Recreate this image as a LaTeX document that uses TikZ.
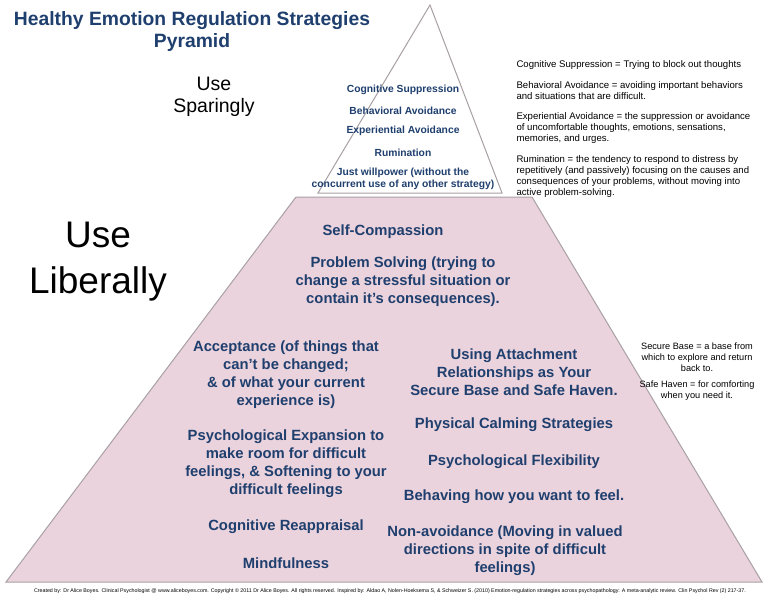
\documentclass[tikz,border=0pt]{standalone}
\usepackage{fontspec}
\setmainfont{Liberation Sans}
\definecolor{navy}{HTML}{1F3F6E}
\definecolor{pinkfill}{HTML}{EBD3DD}
\definecolor{edge}{HTML}{A8A0A4}
\begin{document}
\begin{tikzpicture}[x=1pt,y=-1pt,
  lbl/.style={text=navy,font=\bfseries\fontsize{14.8}{18}\selectfont,align=center},
  sm/.style={text=navy,font=\bfseries\fontsize{10.3}{12}\selectfont,align=center},
  note/.style={font=\fontsize{9.6}{11}\selectfont,align=left,anchor=north west}]
\useasboundingbox (0,0) rectangle (768,599);
\fill[white] (0,0) rectangle (768,599);
% pyramid pieces
\draw[edge,fill=pinkfill,line width=1pt] (296,197) -- (532,197) -- (762,582) -- (6,582) -- cycle;
\draw[edge,fill=white,line width=1pt] (430,5) -- (502,193) -- (318,193) -- cycle;
% headings
\node[text=navy,font=\bfseries\fontsize{19.3}{22}\selectfont,align=center] (title) at (192,32) {Healthy Emotion Regulation Strategies\\Pyramid};
\node[font=\fontsize{19.5}{22}\selectfont,align=center] (spar) at (214,97) {Use\\Sparingly};
\node[font=\fontsize{37}{46}\selectfont,align=center] (lib) at (98,262) {Use\\Liberally};
% top strategies
\node[sm] (cs) at (403,90) {Cognitive Suppression};
\node[sm] (ba) at (403,111) {Behavioral Avoidance};
\node[sm] (ea) at (403,131) {Experiential Avoidance};
\node[sm] (ru) at (403,153) {Rumination};
\node[sm] (jw) at (403,179) {Just willpower (without the\\concurrent use of any other strategy)};
% bottom strategies
\node[lbl] (sc) at (383,232) {Self-Compassion};
\node[lbl] (ps) at (403,282) {Problem Solving (trying to\\change a stressful situation or\\contain it's consequences).};
\node[lbl] (ac) at (286,375) {Acceptance (of things that\\can't be changed;\\\& of what your current\\experience is)};
\node[lbl] (at) at (514,372) {Using Attachment\\Relationships as Your\\Secure Base and Safe Haven.};
\node[lbl] (pe) at (286,464) {Psychological Expansion to\\make room for difficult\\feelings, \& Softening to your\\difficult feelings};
\node[lbl] (pc) at (514,425) {Physical Calming Strategies};
\node[lbl] (pf) at (514,462) {Psychological Flexibility};
\node[lbl] (bh) at (514,497) {Behaving how you want to feel.};
\node[lbl] (cr) at (286,527) {Cognitive Reappraisal};
\node[lbl] (mi) at (286,563) {Mindfulness};
\node[lbl] (na) at (505,551) {Non-avoidance (Moving in valued\\directions in spite of difficult\\feelings)};
% notes
\node[note] (n1) at (513,57) {Cognitive Suppression = Trying to block out thoughts};
\node[note] (n2) at (513,78) {Behavioral Avoidance = avoiding important behaviors\\and situations that are difficult.};
\node[note] (n3) at (513,109) {Experiential Avoidance = the suppression or avoidance\\of uncomfortable thoughts, emotions, sensations,\\memories, and urges.};
\node[note] (n4) at (513,152) {Rumination = the tendency to respond to distress by\\repetitively (and passively) focusing on the causes and\\consequences of your problems, without moving into\\active problem-solving.};
\node[font=\fontsize{9.2}{11}\selectfont,align=center] (n5) at (697,357) {Secure Base = a base from\\which to explore and return\\back to.};
\node[font=\fontsize{9.2}{11}\selectfont,align=center] (n6) at (697,391) {Safe Haven = for comforting\\when you need it.};
\node[font=\fontsize{5.3}{6}\selectfont] (cred) at (390,591) {Created by: Dr Alice Boyes. Clinical Psychologist @ www.aliceboyes.com. Copyright \textcopyright\ 2011 Dr Alice Boyes. All rights reserved. Inspired by: Aldao A, Nolen-Hoeksema S, \& Schweizer S. (2010) Emotion-regulation strategies across psychopathology: A meta-analytic review. Clin Psychol Rev (2) 217-37.};
\end{tikzpicture}
\end{document}
